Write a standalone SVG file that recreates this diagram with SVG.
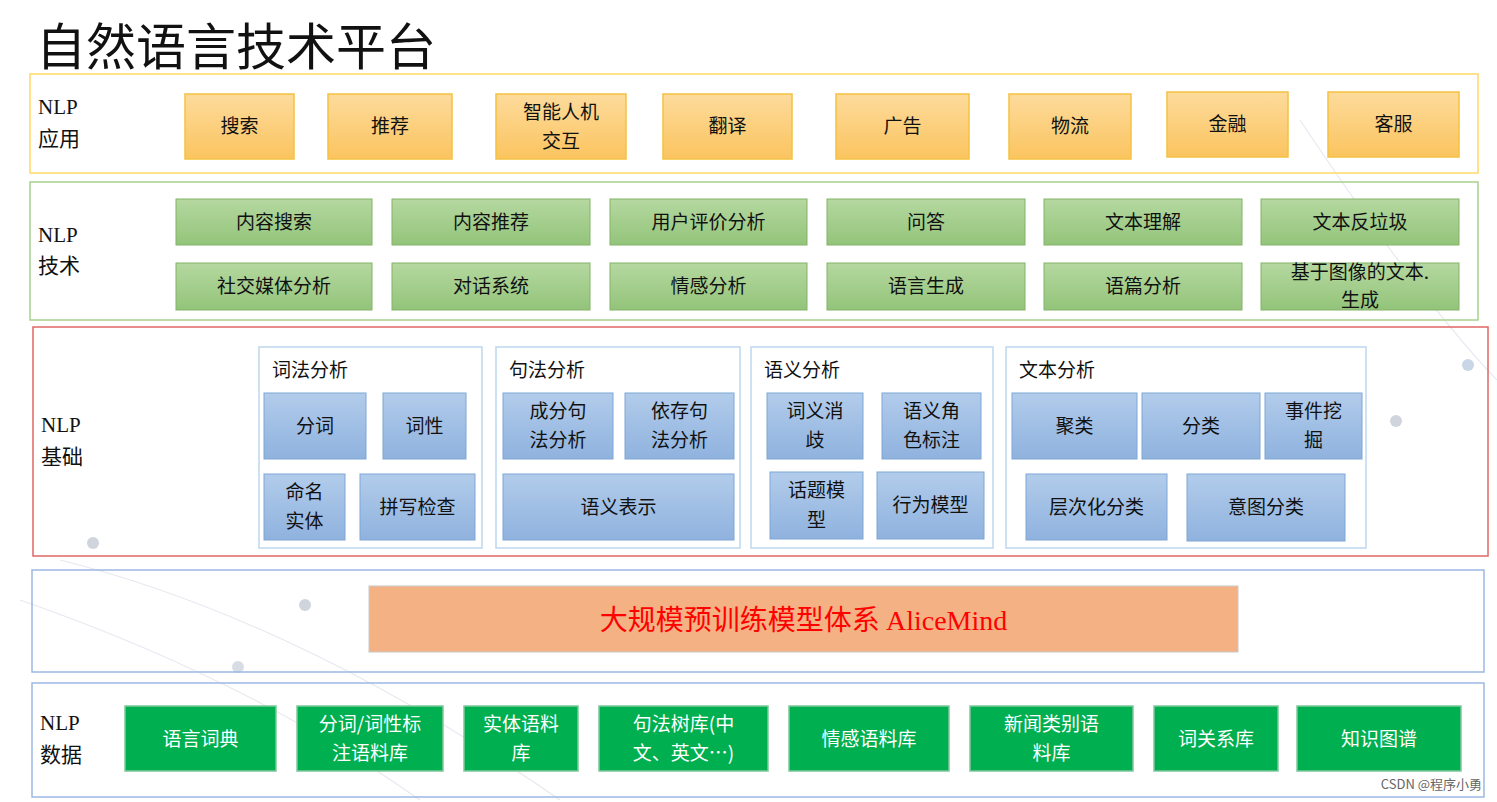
<svg xmlns="http://www.w3.org/2000/svg" width="1497" height="802" viewBox="0 0 1497 802">
<defs>
<linearGradient id="gy" x1="0" y1="0" x2="0" y2="1"><stop offset="0" stop-color="#FDDB9C"/><stop offset="1" stop-color="#FBC45F"/></linearGradient>
<linearGradient id="gg" x1="0" y1="0" x2="0" y2="1"><stop offset="0" stop-color="#B5D8A0"/><stop offset="1" stop-color="#93C47A"/></linearGradient>
<linearGradient id="gb" x1="0" y1="0" x2="0" y2="1"><stop offset="0" stop-color="#B2CCEB"/><stop offset="1" stop-color="#8FB2DE"/></linearGradient>
</defs>
<style>
text{font-family:"Noto Sans CJK SC","Liberation Sans",sans-serif;}
.t{font-size:19px;text-anchor:middle;fill:#111;}
.lbl{font-family:"Liberation Serif","Noto Sans CJK SC",serif;font-size:21px;fill:#111;}
.ya{fill:url(#gy);stroke:#F5C242;stroke-width:1.5}
.gn{fill:url(#gg);stroke:#82B366;stroke-width:1}
.bl{fill:url(#gb);stroke:#7FA6D6;stroke-width:1}
.dg{fill:#00B050;stroke:#7FC79B;stroke-width:1.5}
.wt{fill:#fff}
.pn{fill:#fff;stroke:#BDD7EE;stroke-width:1.5}
.st{font-size:19px;fill:#111}
</style>
<rect width="1497" height="802" fill="#fff"/>
<g id="decor" stroke="#E6E9F0" fill="none" stroke-width="1.2">
<path d="M60 560 Q300 620 560 800"/><path d="M20 600 Q250 680 420 800"/><path d="M1300 120 Q1420 300 1497 380"/>
<circle cx="93" cy="543" r="6" fill="#D0D4DC" stroke="none"/><circle cx="305" cy="605" r="6" fill="#D0D4DC" stroke="none"/><circle cx="238" cy="667" r="6" fill="#D8DCE4" stroke="none"/><circle cx="1468" cy="365" r="6" fill="#C9D6E6" stroke="none"/><circle cx="1396" cy="421" r="6" fill="#D0D4DC" stroke="none"/>
</g>
<text id="title" x="36" y="65" font-size="50" fill="#111">自然语言技术平台</text>
<g id="layer-app">
<rect x="30" y="74" width="1448" height="99" fill="none" stroke="#FFD966" stroke-width="1.5"/>
<text class="lbl" x="38" y="114">NLP</text><text class="lbl" x="38" y="146">应用</text>
<g id="a1"><rect class="ya" x="185" y="94" width="109" height="65"/><text class="t" x="239.5" y="133">搜索</text></g>
<g id="a2"><rect class="ya" x="328" y="94" width="124" height="65"/><text class="t" x="390" y="133">推荐</text></g>
<g id="a3"><rect class="ya" x="496" y="94" width="130" height="65"/><text class="t" x="561" y="119">智能人机</text><text class="t" x="561" y="148">交互</text></g>
<g id="a4"><rect class="ya" x="663" y="94" width="129" height="65"/><text class="t" x="727.5" y="133">翻译</text></g>
<g id="a5"><rect class="ya" x="836" y="94" width="133" height="65"/><text class="t" x="902.5" y="133">广告</text></g>
<g id="a6"><rect class="ya" x="1009" y="94" width="122" height="65"/><text class="t" x="1070" y="133">物流</text></g>
<g id="a7"><rect class="ya" x="1167" y="92" width="121" height="65"/><text class="t" x="1227.5" y="131">金融</text></g>
<g id="a8"><rect class="ya" x="1328" y="92" width="131" height="65"/><text class="t" x="1393.5" y="131">客服</text></g>
</g>
<g id="layer-tech">
<rect x="30" y="182" width="1448" height="138" fill="none" stroke="#A9D18E" stroke-width="1.5"/>
<text class="lbl" x="38" y="242">NLP</text><text class="lbl" x="38" y="273">技术</text>
<g id="t1"><rect class="gn" x="176" y="199" width="196" height="46"/><text class="t" x="274" y="229">内容搜索</text></g>
<g id="t2"><rect class="gn" x="392" y="199" width="198" height="46"/><text class="t" x="491" y="229">内容推荐</text></g>
<g id="t3"><rect class="gn" x="610" y="199" width="197" height="46"/><text class="t" x="708.5" y="229">用户评价分析</text></g>
<g id="t4"><rect class="gn" x="827" y="199" width="198" height="46"/><text class="t" x="926" y="229">问答</text></g>
<g id="t5"><rect class="gn" x="1044" y="199" width="198" height="46"/><text class="t" x="1143" y="229">文本理解</text></g>
<g id="t6"><rect class="gn" x="1261" y="199" width="198" height="46"/><text class="t" x="1360" y="229">文本反垃圾</text></g>
<g id="t7"><rect class="gn" x="176" y="263" width="196" height="47"/><text class="t" x="274" y="293">社交媒体分析</text></g>
<g id="t8"><rect class="gn" x="392" y="263" width="198" height="47"/><text class="t" x="491" y="293">对话系统</text></g>
<g id="t9"><rect class="gn" x="610" y="263" width="197" height="47"/><text class="t" x="708.5" y="293">情感分析</text></g>
<g id="t10"><rect class="gn" x="827" y="263" width="198" height="47"/><text class="t" x="926" y="293">语言生成</text></g>
<g id="t11"><rect class="gn" x="1044" y="263" width="198" height="47"/><text class="t" x="1143" y="293">语篇分析</text></g>
<g id="t12"><rect class="gn" x="1261" y="263" width="198" height="47"/><text class="t" x="1360" y="279">基于图像的文本.</text><text class="t" x="1360" y="307">生成</text></g>
</g>
<g id="layer-base">
<rect x="33" y="327" width="1455" height="229" fill="none" stroke="#E06666" stroke-width="1.5"/>
<text class="lbl" x="41" y="432">NLP</text><text class="lbl" x="41" y="464">基础</text>
<g id="p1"><rect class="pn" x="259" y="347" width="223" height="201"/><text class="st" x="272" y="377">词法分析</text>
<g id="b1"><rect class="bl" x="264" y="393" width="102" height="66"/><text class="t" x="315" y="433">分词</text></g>
<g id="b2"><rect class="bl" x="383" y="393" width="83" height="66"/><text class="t" x="424.5" y="433">词性</text></g>
<g id="b3"><rect class="bl" x="264" y="474" width="81" height="66"/><text class="t" x="304.5" y="499">命名</text><text class="t" x="304.5" y="528">实体</text></g>
<g id="b4"><rect class="bl" x="360" y="474" width="115" height="66"/><text class="t" x="417.5" y="514">拼写检查</text></g>
</g>
<g id="p2"><rect class="pn" x="496" y="347" width="244" height="201"/><text class="st" x="509" y="377">句法分析</text>
<g id="b5"><rect class="bl" x="503" y="393" width="110" height="66"/><text class="t" x="558" y="418">成分句</text><text class="t" x="558" y="447">法分析</text></g>
<g id="b6"><rect class="bl" x="625" y="393" width="109" height="66"/><text class="t" x="679.5" y="418">依存句</text><text class="t" x="679.5" y="447">法分析</text></g>
<g id="b7"><rect class="bl" x="503" y="474" width="231" height="66"/><text class="t" x="618.5" y="514">语义表示</text></g>
</g>
<g id="p3"><rect class="pn" x="751" y="347" width="242" height="201"/><text class="st" x="764" y="377">语义分析</text>
<g id="b8"><rect class="bl" x="767" y="393" width="96" height="66"/><text class="t" x="815" y="418">词义消</text><text class="t" x="815" y="447">歧</text></g>
<g id="b9"><rect class="bl" x="882" y="393" width="99" height="66"/><text class="t" x="931.5" y="418">语义角</text><text class="t" x="931.5" y="447">色标注</text></g>
<g id="b10"><rect class="bl" x="770" y="472" width="93" height="67"/><text class="t" x="816.5" y="497">话题模</text><text class="t" x="816.5" y="527">型</text></g>
<g id="b11"><rect class="bl" x="877" y="472" width="107" height="67"/><text class="t" x="930.5" y="512">行为模型</text></g>
</g>
<g id="p4"><rect class="pn" x="1006" y="347" width="360" height="201"/><text class="st" x="1019" y="377">文本分析</text>
<g id="b12"><rect class="bl" x="1012" y="393" width="125" height="66"/><text class="t" x="1074.5" y="433">聚类</text></g>
<g id="b13"><rect class="bl" x="1142" y="393" width="118" height="66"/><text class="t" x="1201" y="433">分类</text></g>
<g id="b14"><rect class="bl" x="1265" y="393" width="97" height="66"/><text class="t" x="1313.5" y="418">事件挖</text><text class="t" x="1313.5" y="447">掘</text></g>
<g id="b15"><rect class="bl" x="1026" y="474" width="141" height="66"/><text class="t" x="1096.5" y="514">层次化分类</text></g>
<g id="b16"><rect class="bl" x="1187" y="474" width="158" height="67"/><text class="t" x="1266" y="514">意图分类</text></g>
</g>
</g>
<g id="layer-model">
<rect x="32" y="570" width="1452" height="102" fill="none" stroke="#9DB9E3" stroke-width="1.5"/>
<g id="m1"><rect x="369" y="586" width="869" height="66" fill="#F4B183" stroke="#C9C9C9" stroke-width="1"/>
<text x="803.5" y="630" font-size="28" text-anchor="middle" fill="#FF0000">大规模预训练模型体系 <tspan font-family="Liberation Serif,serif">AliceMind</tspan></text></g>
</g>
<g id="layer-data">
<rect x="32" y="683" width="1452" height="114" fill="none" stroke="#9DB9E3" stroke-width="1.5"/>
<text class="lbl" x="40" y="730">NLP</text><text class="lbl" x="40" y="762">数据</text>
<g id="d1"><rect class="dg" x="125" y="706" width="151" height="65"/><text class="t" x="200.5" y="746" fill="#fff" style="fill:#fff">语言词典</text></g>
<g id="d2"><rect class="dg" x="297" y="706" width="146" height="65"/><text class="t" x="370" y="731" style="fill:#fff">分词/词性标</text><text class="t" x="370" y="760" style="fill:#fff">注语料库</text></g>
<g id="d3"><rect class="dg" x="464" y="706" width="114" height="65"/><text class="t" x="521" y="731" style="fill:#fff">实体语料</text><text class="t" x="521" y="760" style="fill:#fff">库</text></g>
<g id="d4"><rect class="dg" x="599" y="706" width="169" height="65"/><text class="t" x="683.5" y="731" style="fill:#fff">句法树库(中</text><text class="t" x="683.5" y="760" style="fill:#fff">文、英文…)</text></g>
<g id="d5"><rect class="dg" x="789" y="706" width="160" height="65"/><text class="t" x="869" y="746" style="fill:#fff">情感语料库</text></g>
<g id="d6"><rect class="dg" x="970" y="706" width="163" height="65"/><text class="t" x="1051.5" y="731" style="fill:#fff">新闻类别语</text><text class="t" x="1051.5" y="760" style="fill:#fff">料库</text></g>
<g id="d7"><rect class="dg" x="1154" y="706" width="124" height="65"/><text class="t" x="1216" y="746" style="fill:#fff">词关系库</text></g>
<g id="d8"><rect class="dg" x="1297" y="706" width="164" height="65"/><text class="t" x="1379" y="746" style="fill:#fff">知识图谱</text></g>
</g>
<g id="connectors"></g>
<text x="1482" y="789" font-size="13" text-anchor="end" fill="#666">CSDN @程序小勇</text>
</svg>
